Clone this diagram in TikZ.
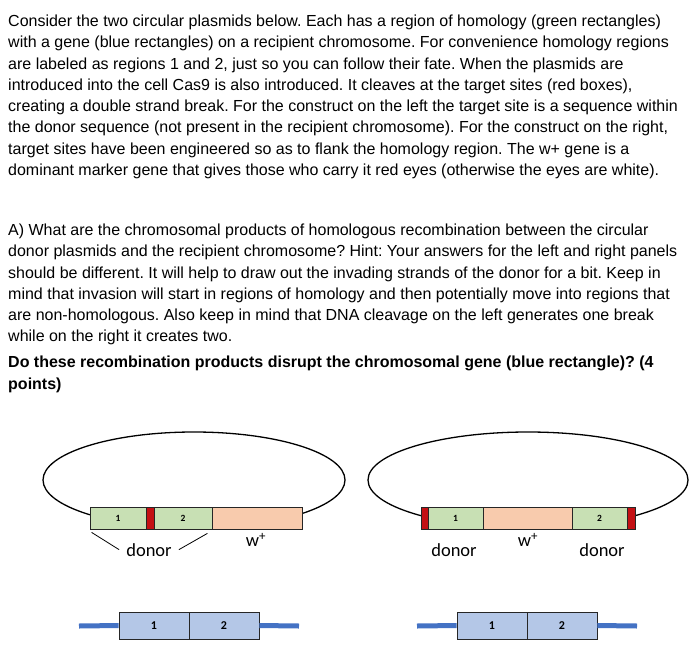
\documentclass[tikz,border=0pt]{standalone}
\usepackage{fontspec}
\setmainfont{Liberation Sans}
\newfontfamily\figfont{Carlito}
\usepackage{tikz}
\usetikzlibrary{calc,positioning}
\frenchspacing

\definecolor{homgreen}{RGB}{200,224,180}
\definecolor{cutred}{RGB}{196,16,20}
\definecolor{markorange}{RGB}{248,203,173}
\definecolor{genefill}{RGB}{180,199,231}
\definecolor{geneline}{RGB}{68,114,196}

\begin{document}
\begin{tikzpicture}[x=1pt, y=-1pt,
  para/.style = {anchor=base west, align=left, inner sep=0pt, font=\fontsize{16}{21.3}\selectfont},
  seg/.style = {draw=black!85, line width=.8pt, minimum height=22pt, inner sep=0pt, font=\figfont\fontsize{9.5}{9.5}\selectfont\bfseries},
  gene/.style = {draw=black!85, line width=.8pt, fill=genefill, minimum height=27pt, minimum width=70pt, inner sep=0pt, font=\figfont\fontsize{12}{12}\selectfont\bfseries},
  lbl/.style = {anchor=base, inner sep=7pt, font=\figfont\fontsize{18.5}{18.5}\selectfont},
  plasmid/.style = {draw=black, line width=1.3pt},
  chrom/.style = {draw=geneline, line width=5pt}]
\useasboundingbox (0,0) rectangle (700,663);

% question text (base = last line)
\node[para] (intro) at (8,175.6) {Consider the two circular plasmids below. Each has a region of homology (green rectangles)\\
with a gene (blue rectangles) on a recipient chromosome. For convenience homology regions\\
are labeled as regions 1 and 2, just so you can follow their fate. When the plasmids are\\
introduced into the cell Cas9 is also introduced. It cleaves at the target sites (red boxes),\\
creating a double strand break. For the construct on the left the target site is a sequence within\\
the donor sequence (not present in the recipient chromosome). For the construct on the right,\\
target sites have been engineered so as to flank the homology region. The w+ gene is a\\
dominant marker gene that gives those who carry it red eyes (otherwise the eyes are white).};
\node[para] (partA) at (8,341.9) {A) What are the chromosomal products of homologous recombination between the circular\\
donor plasmids and the recipient chromosome? Hint: Your answers for the left and right panels\\
should be different. It will help to draw out the invading strands of the donor for a bit. Keep in\\
mind that invasion will start in regions of homology and then potentially move into regions that\\
are non-homologous. Also keep in mind that DNA cleavage on the left generates one break\\
while on the right it creates two.};
\node[para, font=\fontsize{16}{22}\selectfont\bfseries] (ask) at (8,389) {Do these recombination products disrupt the chromosomal gene (blue rectangle)? (4\\
points)};

% left plasmid
\draw[plasmid] (194,480) ellipse [x radius=151, y radius=48];
\node[seg, fill=homgreen, minimum width=56pt] (l1) at (118,518) {1};
\node[seg, fill=cutred, minimum width=8pt] (lcut) at (150,518) {};
\node[seg, fill=homgreen, minimum width=58pt] (l2) at (183,518) {2};
\node[seg, fill=markorange, minimum width=90pt] (lw) at (257,518) {};
\node[lbl] (ldonor) at (149,556) {donor};
\node[lbl] (lwplus) at (256,546.5) {w\textsuperscript{+}};
\draw[line width=.8pt] ([shift={(2,3)}]l1.south west) -- (ldonor.west);
\draw[line width=.8pt] (ldonor.east) -- ([shift={(-5,4)}]l2.south east);

% right plasmid
\draw[plasmid] (528,480) ellipse [x radius=160, y radius=48];
\node[seg, fill=cutred, minimum width=7pt] (rcut1) at (424.5,518) {};
\node[seg, fill=homgreen, minimum width=55pt] (r1) at (455.5,518) {1};
\node[seg, fill=markorange, minimum width=89pt] (rw) at (527.5,518) {};
\node[seg, fill=homgreen, minimum width=55pt] (r2) at (599.5,518) {2};
\node[seg, fill=cutred, minimum width=8pt] (rcut2) at (631,518) {};
\node[lbl] (rdonor1) at (454,556) {donor};
\node[lbl] (rwplus) at (528,546.5) {w\textsuperscript{+}};
\node[lbl] (rdonor2) at (602,556) {donor};

% recipient chromosomes
\coordinate (lchrom1) at (79,626);
\coordinate (lchrom2) at (299,626);
\coordinate (rchrom1) at (417,626);
\coordinate (rchrom2) at (637,626);
\node[gene] (c1) at (154,625.5) {1};
\node[gene] (c2) at (224,625.5) {2};
\draw[chrom] (lchrom1) -- (c1.west);
\draw[chrom] (c2.east) -- (lchrom2);
\node[gene] (rc1) at (492,625.5) {1};
\node[gene] (rc2) at (562,625.5) {2};
\draw[chrom] (rchrom1) -- (rc1.west);
\draw[chrom] (rc2.east) -- (rchrom2);
\end{tikzpicture}
\end{document}
